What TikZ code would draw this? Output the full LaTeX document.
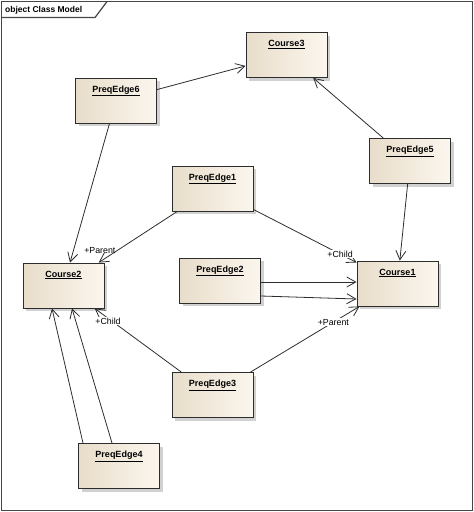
\documentclass[tikz,border=0pt]{standalone}
\usepackage{fontspec}
\setmainfont{Liberation Sans}
\usetikzlibrary{arrows.meta,shadows}
\definecolor{framegray}{RGB}{70,70,70}
\definecolor{linegray}{RGB}{45,45,45}
\definecolor{boxleft}{RGB}{232,221,202}
\definecolor{boxright}{RGB}{251,246,238}

\begin{document}
\begin{tikzpicture}[x=1pt,y=-1pt,
  classbox/.style={draw=linegray,line width=0.9pt,minimum width=81pt,minimum height=45pt,
    left color=boxleft,right color=boxright,inner sep=0pt,
    drop shadow={shadow xshift=3pt,shadow yshift=-3pt,fill=black!30,opacity=0.6}},
  boxlbl/.style={anchor=north,yshift=-8pt,inner sep=0pt,font=\fontsize{9}{10}\selectfont\bfseries},
  assoc/.style={draw=linegray,line width=0.8pt,-{Straight Barb[length=9pt,width=10pt]}},
  rolelbl/.style={font=\fontsize{8.8}{10}\selectfont,inner sep=1pt,fill=white}]
\useasboundingbox (0,0) rectangle (474,512);
% frame
\draw[framegray,line width=1.6pt] (1.5,1.5) rectangle (472.5,510.5);
\draw[framegray,line width=1.2pt] (1.5,17.5) -- (95,17.5) -- (107,1.5);
\node[anchor=west,inner sep=0pt,font=\fontsize{8.5}{10}\selectfont\bfseries] (title) at (5,10) {object Class Model};
% classes
\node[classbox,label={[boxlbl]north:\underline{Course3}}] (c3) at (286.5,55) {};
\node[classbox,label={[boxlbl]north:\underline{PreqEdge6}}] (e6) at (116,100.5) {};
\node[classbox,label={[boxlbl]north:\underline{PreqEdge5}}] (e5) at (410,161) {};
\node[classbox,label={[boxlbl]north:\underline{PreqEdge1}}] (e1) at (212.5,188.5) {};
\node[classbox,label={[boxlbl]north:\underline{PreqEdge2}}] (e2) at (220,280.5) {};
\node[classbox,label={[boxlbl]north:\underline{Course2}}] (c2) at (63.5,285.5) {};
\node[classbox,label={[boxlbl]north:\underline{Course1}}] (c1) at (397.5,283.5) {};
\node[classbox,label={[boxlbl]north:\underline{PreqEdge3}}] (e3) at (212.5,395) {};
\node[classbox,label={[boxlbl]north:\underline{PreqEdge4}}] (e4) at (119,466) {};
% associations
\draw[assoc] (e6) -- (c3);
\draw[assoc] (e6) -- (c2);
\draw[assoc] (e5) -- (c3);
\draw[assoc] (e5) -- (c1);
\draw[assoc] (e1) -- node[rolelbl,pos=0.77,anchor=east,fill=none] (p1) {+Parent} (c2);
\draw[assoc] (e1) -- node[rolelbl,pos=0.84] (ch1) {+Child} (c1);
\draw[assoc] ([yshift=-1.5pt]e2.east) -- ([yshift=1.5pt]c1.west);
\draw[assoc] ([yshift=-15.5pt]e2.east) -- ([yshift=-15.5pt]c1.west);
\draw[assoc] (e3) -- node[rolelbl,pos=0.8,xshift=-4pt] (ch3) {+Child} (c2);
\draw[assoc] (e3) -- node[rolelbl,pos=0.76] (p3) {+Parent} (c1);
\draw[assoc] ([xshift=-36pt]e4.north) -- ([xshift=-11.5pt]c2.south);
\draw[assoc] ([xshift=-7pt]e4.north) -- ([xshift=8.5pt]c2.south);
\end{tikzpicture}
\end{document}
